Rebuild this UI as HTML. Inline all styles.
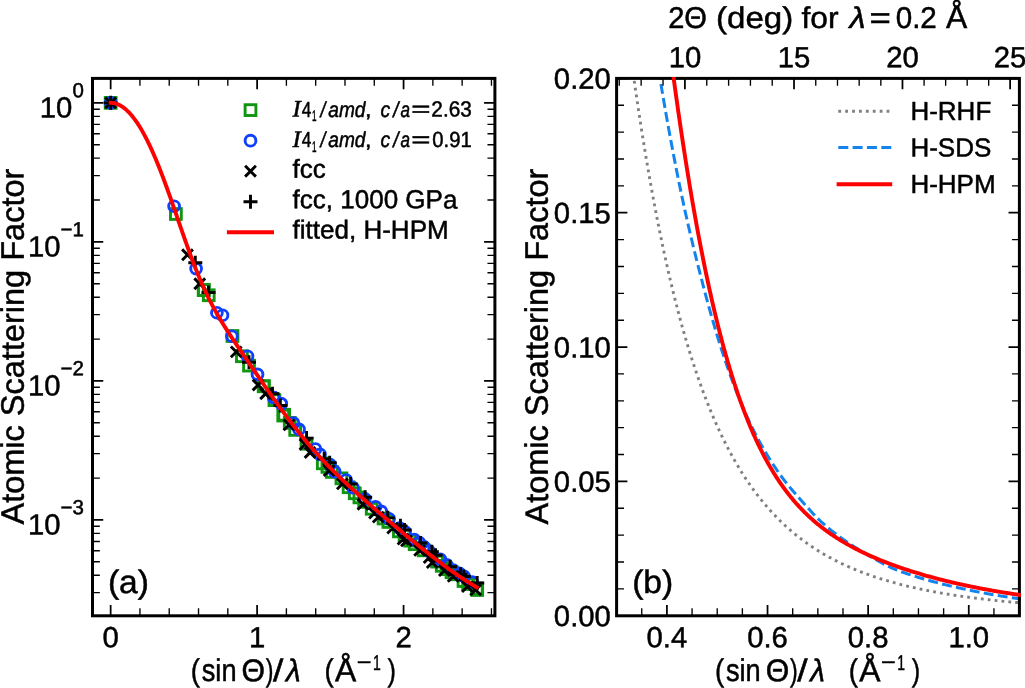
<!DOCTYPE html>
<html><head><meta charset="utf-8"><title>Atomic Scattering Factor</title>
<style>html,body{margin:0;padding:0;background:#fff}svg{display:block}text{text-rendering:geometricPrecision;stroke:#000;stroke-width:0.5px}</style></head>
<body>
<svg width="1025" height="688" viewBox="0 0 1025 688" font-family="Liberation Sans, sans-serif" fill="#000">
<rect width="1025" height="688" fill="#fff"/>
<defs><clipPath id="ca"><rect x="91.0" y="76.9" width="405.4" height="540.4"/></clipPath>
<clipPath id="cb"><rect x="615.1" y="76.9" width="405.8" height="540.4"/></clipPath></defs>
<g clip-path="url(#ca)">
<g fill="none" stroke="#109510" stroke-width="2.9"><rect x="105.25" y="97.46" width="10.80" height="10.80"/><rect x="170.50" y="208.60" width="10.80" height="10.80"/><rect x="198.35" y="284.60" width="10.80" height="10.80"/><rect x="198.35" y="284.60" width="10.80" height="10.80"/><rect x="203.35" y="289.85" width="10.80" height="10.80"/><rect x="227.10" y="330.60" width="10.80" height="10.80"/><rect x="236.50" y="350.85" width="10.80" height="10.80"/><rect x="243.60" y="360.20" width="10.80" height="10.80"/><rect x="258.35" y="380.85" width="10.80" height="10.80"/><rect x="258.35" y="380.85" width="10.80" height="10.80"/><rect x="269.05" y="394.74" width="10.80" height="10.80"/><rect x="277.85" y="410.17" width="10.80" height="10.80"/><rect x="278.76" y="409.33" width="10.80" height="10.80"/><rect x="284.36" y="417.52" width="10.80" height="10.80"/><rect x="289.79" y="424.51" width="10.80" height="10.80"/><rect x="301.11" y="438.34" width="10.80" height="10.80"/><rect x="317.38" y="457.93" width="10.80" height="10.80"/><rect x="322.00" y="461.51" width="10.80" height="10.80"/><rect x="326.49" y="466.54" width="10.80" height="10.80"/><rect x="336.03" y="472.94" width="10.80" height="10.80"/><rect x="343.20" y="481.85" width="10.80" height="10.80"/><rect x="349.35" y="487.88" width="10.80" height="10.80"/><rect x="354.00" y="492.00" width="10.80" height="10.80"/><rect x="358.73" y="496.47" width="10.80" height="10.80"/><rect x="366.31" y="503.38" width="10.80" height="10.80"/><rect x="378.16" y="513.10" width="10.80" height="10.80"/><rect x="382.97" y="516.58" width="10.80" height="10.80"/><rect x="393.51" y="525.97" width="10.80" height="10.80"/><rect x="399.21" y="529.88" width="10.80" height="10.80"/><rect x="404.73" y="535.25" width="10.80" height="10.80"/><rect x="409.27" y="538.82" width="10.80" height="10.80"/><rect x="418.22" y="544.98" width="10.80" height="10.80"/><rect x="431.68" y="556.20" width="10.80" height="10.80"/><rect x="436.32" y="560.44" width="10.80" height="10.80"/><rect x="441.17" y="563.80" width="10.80" height="10.80"/><rect x="446.14" y="566.87" width="10.80" height="10.80"/><rect x="450.46" y="568.93" width="10.80" height="10.80"/><rect x="458.10" y="575.64" width="10.80" height="10.80"/><rect x="462.71" y="578.60" width="10.80" height="10.80"/><rect x="471.40" y="583.03" width="10.80" height="10.80"/><rect x="471.82" y="584.60" width="10.80" height="10.80"/></g>
<g fill="none" stroke="#1040ff" stroke-width="2.9"><circle cx="110.65" cy="102.86" r="5.40"/><circle cx="174.10" cy="206.25" r="5.40"/><circle cx="196.10" cy="268.60" r="5.40"/><circle cx="216.90" cy="312.75" r="5.40"/><circle cx="222.50" cy="315.25" r="5.40"/><circle cx="231.90" cy="336.25" r="5.40"/><circle cx="247.50" cy="356.25" r="5.40"/><circle cx="257.50" cy="374.40" r="5.40"/><circle cx="273.75" cy="397.50" r="5.40"/><circle cx="273.75" cy="397.50" r="5.40"/><circle cx="281.25" cy="403.75" r="5.40"/><circle cx="281.25" cy="403.75" r="5.40"/><circle cx="293.49" cy="423.21" r="5.40"/><circle cx="299.03" cy="429.43" r="5.40"/><circle cx="315.40" cy="449.05" r="5.40"/><circle cx="320.00" cy="454.46" r="5.40"/><circle cx="330.02" cy="464.57" r="5.40"/><circle cx="334.65" cy="471.66" r="5.40"/><circle cx="346.16" cy="480.02" r="5.40"/><circle cx="353.04" cy="487.75" r="5.40"/><circle cx="364.86" cy="498.82" r="5.40"/><circle cx="375.51" cy="506.73" r="5.40"/><circle cx="381.22" cy="511.34" r="5.40"/><circle cx="389.03" cy="518.78" r="5.40"/><circle cx="399.63" cy="528.15" r="5.40"/><circle cx="405.02" cy="531.87" r="5.40"/><circle cx="414.28" cy="539.55" r="5.40"/><circle cx="419.26" cy="542.57" r="5.40"/><circle cx="424.02" cy="546.85" r="5.40"/><circle cx="429.00" cy="551.18" r="5.40"/><circle cx="440.33" cy="559.27" r="5.40"/><circle cx="446.64" cy="564.87" r="5.40"/><circle cx="453.10" cy="570.01" r="5.40"/><circle cx="459.31" cy="573.24" r="5.40"/><circle cx="464.00" cy="576.37" r="5.40"/><circle cx="472.20" cy="582.12" r="5.40"/></g>
<path fill="none" stroke="#000" stroke-width="2.9" d="M105.25 97.46l10.80 10.80m0 -10.80l-10.80 10.80M182.10 249.40l10.80 10.80m0 -10.80l-10.80 10.80M194.35 278.35l10.80 10.80m0 -10.80l-10.80 10.80M230.85 346.50l10.80 10.80m0 -10.80l-10.80 10.80M252.70 379.60l10.80 10.80m0 -10.80l-10.80 10.80M260.20 388.35l10.80 10.80m0 -10.80l-10.80 10.80M283.64 419.50l10.80 10.80m0 -10.80l-10.80 10.80M299.65 438.95l10.80 10.80m0 -10.80l-10.80 10.80M304.70 447.10l10.80 10.80m0 -10.80l-10.80 10.80M323.73 465.29l10.80 10.80m0 -10.80l-10.80 10.80M336.99 478.49l10.80 10.80m0 -10.80l-10.80 10.80M357.53 498.96l10.80 10.80m0 -10.80l-10.80 10.80M369.10 507.70l10.80 10.80m0 -10.80l-10.80 10.80M372.84 511.74l10.80 10.80m0 -10.80l-10.80 10.80M387.31 522.68l10.80 10.80m0 -10.80l-10.80 10.80M397.70 533.62l10.80 10.80m0 -10.80l-10.80 10.80M401.08 535.53l10.80 10.80m0 -10.80l-10.80 10.80M414.23 544.99l10.80 10.80m0 -10.80l-10.80 10.80M423.74 552.21l10.80 10.80m0 -10.80l-10.80 10.80M426.85 557.29l10.80 10.80m0 -10.80l-10.80 10.80M438.99 565.17l10.80 10.80m0 -10.80l-10.80 10.80M447.81 570.88l10.80 10.80m0 -10.80l-10.80 10.80M462.03 581.18l10.80 10.80m0 -10.80l-10.80 10.80M470.30 584.51l10.80 10.80m0 -10.80l-10.80 10.80"/>
<path fill="none" stroke="#000" stroke-width="2.9" d="M103.65 102.86h14.00m-7.00 -7.00v14.00M188.30 262.70h14.00m-7.00 -7.00v14.00M201.50 292.50h14.00m-7.00 -7.00v14.00M242.00 362.25h14.00m-7.00 -7.00v14.00M265.50 393.75h14.00m-7.00 -7.00v14.00M273.33 405.43h14.00m-7.00 -7.00v14.00M299.58 438.09h14.00m-7.00 -7.00v14.00M317.16 458.91h14.00m-7.00 -7.00v14.00M322.71 462.70h14.00m-7.00 -7.00v14.00M343.62 483.98h14.00m-7.00 -7.00v14.00M358.17 497.32h14.00m-7.00 -7.00v14.00M380.74 517.86h14.00m-7.00 -7.00v14.00M393.44 525.83h14.00m-7.00 -7.00v14.00M397.55 530.00h14.00m-7.00 -7.00v14.00M413.45 543.01h14.00m-7.00 -7.00v14.00M424.85 551.74h14.00m-7.00 -7.00v14.00M428.57 555.24h14.00m-7.00 -7.00v14.00M443.02 566.78h14.00m-7.00 -7.00v14.00M453.46 574.17h14.00m-7.00 -7.00v14.00M456.87 576.43h14.00m-7.00 -7.00v14.00M470.21 582.97h14.00m-7.00 -7.00v14.00"/>
<path fill="none" stroke="#ff0000" stroke-width="3.9" stroke-linecap="square" stroke-linejoin="round" d="M110.65 102.86L111.57 102.88L112.49 102.96L113.40 103.08L114.32 103.25L115.24 103.46L116.16 103.73L117.07 104.04L117.99 104.41L118.91 104.82L119.83 105.27L120.74 105.78L121.66 106.33L122.58 106.94L123.50 107.58L124.42 108.28L125.33 109.03L126.25 109.82L127.17 110.66L128.09 111.54L129.00 112.48L129.92 113.46L130.84 114.49L131.76 115.56L132.67 116.68L133.59 117.84L134.51 119.06L135.43 120.31L136.34 121.62L137.26 122.96L138.18 124.36L139.10 125.79L140.02 127.28L140.93 128.80L141.85 130.37L142.77 131.98L143.69 133.64L144.60 135.33L145.52 137.07L146.44 138.85L147.36 140.68L148.27 142.54L149.19 144.44L150.11 146.38L151.03 148.36L151.95 150.38L152.86 152.44L153.78 154.53L154.70 156.66L155.62 158.83L156.53 161.02L157.45 163.26L158.37 165.52L159.29 167.82L160.20 170.15L161.12 172.51L162.04 174.89L162.96 177.31L163.87 179.75L164.79 182.21L165.71 184.70L166.63 187.21L167.55 189.75L168.46 192.30L169.38 194.87L170.30 197.46L171.22 200.07L172.13 202.68L173.05 205.31L173.97 207.95L174.89 210.60L175.80 213.25L176.72 215.91L177.64 218.57L178.56 221.24L179.48 223.90L180.39 226.56L181.31 229.21L182.23 231.86L183.15 234.49L184.06 237.12L184.98 239.74L185.90 242.34L186.82 244.92L187.73 247.48L188.65 250.03L189.57 252.55L190.49 255.05L191.40 257.52L192.32 259.97L193.24 262.39L194.16 264.78L195.08 267.14L195.99 269.47L196.91 271.76L197.83 274.03L198.75 276.26L199.66 278.45L200.58 280.61L201.50 282.74L202.42 284.83L203.33 286.89L204.25 288.92L205.17 290.90L206.09 292.86L207.01 294.78L207.92 296.67L208.84 298.53L209.76 300.36L210.68 302.15L211.59 303.92L212.51 305.66L213.43 307.37L214.35 309.05L215.26 310.71L216.18 312.35L217.10 313.96L218.02 315.56L218.93 317.13L219.85 318.68L220.77 320.21L221.69 321.73L222.61 323.23L223.52 324.71L224.44 326.19L225.36 327.64L226.28 329.09L227.19 330.53L228.11 331.95L229.03 333.37L229.95 334.78L230.86 336.18L231.78 337.57L232.70 338.96L233.62 340.34L234.54 341.71L235.45 343.08L236.37 344.45L237.29 345.81L238.21 347.17L239.12 348.53L240.04 349.88L240.96 351.24L241.88 352.59L242.79 353.93L243.71 355.28L244.63 356.63L245.55 357.97L246.47 359.32L247.38 360.66L248.30 362.00L249.22 363.34L250.14 364.68L251.05 366.02L251.97 367.36L252.89 368.70L253.81 370.04L254.72 371.38L255.64 372.71L256.56 374.05L257.48 375.39L258.39 376.72L259.31 378.05L260.23 379.38L261.15 380.71L262.07 382.04L262.98 383.37L263.90 384.70L264.82 386.02L265.74 387.34L266.65 388.66L267.57 389.98L268.49 391.30L269.41 392.61L270.32 393.92L271.24 395.22L272.16 396.53L273.08 397.83L274.00 399.13L274.91 400.42L275.83 401.71L276.75 402.99L277.67 404.28L278.58 405.55L279.50 406.83L280.42 408.10L281.34 409.36L282.25 410.62L283.17 411.87L284.09 413.12L285.01 414.37L285.92 415.61L286.84 416.84L287.76 418.07L288.68 419.29L289.60 420.51L290.51 421.72L291.43 422.92L292.35 424.12L293.27 425.31L294.18 426.50L295.10 427.68L296.02 428.85L296.94 430.02L297.85 431.17L298.77 432.33L299.69 433.47L300.61 434.61L301.53 435.75L302.44 436.87L303.36 437.99L304.28 439.11L305.20 440.21L306.11 441.31L307.03 442.40L307.95 443.49L308.87 444.57L309.78 445.64L310.70 446.70L311.62 447.76L312.54 448.81L313.45 449.86L314.37 450.90L315.29 451.93L316.21 452.95L317.13 453.97L318.04 454.98L318.96 455.99L319.88 456.99L320.80 457.98L321.71 458.97L322.63 459.95L323.55 460.93L324.47 461.90L325.38 462.86L326.30 463.82L327.22 464.77L328.14 465.72L329.06 466.66L329.97 467.59L330.89 468.52L331.81 469.45L332.73 470.37L333.64 471.28L334.56 472.20L335.48 473.10L336.40 474.00L337.31 474.90L338.23 475.79L339.15 476.68L340.07 477.57L340.98 478.45L341.90 479.32L342.82 480.19L343.74 481.06L344.66 481.93L345.57 482.79L346.49 483.65L347.41 484.50L348.33 485.35L349.24 486.20L350.16 487.05L351.08 487.89L352.00 488.73L352.91 489.57L353.83 490.40L354.75 491.23L355.67 492.06L356.59 492.89L357.50 493.71L358.42 494.53L359.34 495.35L360.26 496.17L361.17 496.99L362.09 497.80L363.01 498.61L363.93 499.42L364.84 500.23L365.76 501.04L366.68 501.85L367.60 502.65L368.52 503.45L369.43 504.25L370.35 505.05L371.27 505.85L372.19 506.65L373.10 507.44L374.02 508.24L374.94 509.03L375.86 509.82L376.77 510.61L377.69 511.40L378.61 512.19L379.53 512.98L380.44 513.76L381.36 514.55L382.28 515.33L383.20 516.12L384.12 516.90L385.03 517.68L385.95 518.46L386.87 519.24L387.79 520.02L388.70 520.80L389.62 521.58L390.54 522.35L391.46 523.13L392.37 523.90L393.29 524.68L394.21 525.45L395.13 526.22L396.05 527.00L396.96 527.77L397.88 528.54L398.80 529.30L399.72 530.07L400.63 530.84L401.55 531.60L402.47 532.37L403.39 533.13L404.30 533.90L405.22 534.66L406.14 535.42L407.06 536.18L407.97 536.94L408.89 537.69L409.81 538.45L410.73 539.20L411.65 539.96L412.56 540.71L413.48 541.46L414.40 542.21L415.32 542.96L416.23 543.71L417.15 544.45L418.07 545.19L418.99 545.94L419.90 546.68L420.82 547.42L421.74 548.15L422.66 548.89L423.58 549.62L424.49 550.35L425.41 551.08L426.33 551.81L427.25 552.54L428.16 553.26L429.08 553.98L430.00 554.70L430.92 555.42L431.83 556.14L432.75 556.85L433.67 557.56L434.59 558.27L435.50 558.97L436.42 559.68L437.34 560.38L438.26 561.08L439.18 561.77L440.09 562.47L441.01 563.16L441.93 563.84L442.85 564.53L443.76 565.21L444.68 565.89L445.60 566.56L446.52 567.23L447.43 567.90L448.35 568.57L449.27 569.23L450.19 569.89L451.11 570.55L452.02 571.20L452.94 571.85L453.86 572.49L454.78 573.14L455.69 573.77L456.61 574.41L457.53 575.04L458.45 575.67L459.36 576.29L460.28 576.91L461.20 577.52L462.12 578.13L463.03 578.74L463.95 579.34L464.87 579.94L465.79 580.54L466.71 581.13L467.62 581.71L468.54 582.30L469.46 582.87L470.38 583.45L471.29 584.01L472.21 584.58L473.13 585.14L474.05 585.69L474.96 586.24L475.88 586.79L476.80 587.33"/>
</g>
<rect x="92.5" y="78.4" width="402.4" height="537.4" fill="none" stroke="#000" stroke-width="3"/>
<path d="M110.65 615.75v-10.80M257.11 615.75v-10.80M403.57 615.75v-10.80" stroke="#000" stroke-width="1.75" fill="none"/>
<path d="M110.65 78.40v10.80M257.11 78.40v10.80M403.57 78.40v10.80" stroke="#000" stroke-width="1.75" fill="none"/>
<path d="M139.94 615.75v-7.40M169.23 615.75v-7.40M198.53 615.75v-7.40M227.82 615.75v-7.40M286.40 615.75v-7.40M315.69 615.75v-7.40M344.99 615.75v-7.40M374.28 615.75v-7.40M432.86 615.75v-7.40M462.15 615.75v-7.40M491.45 615.75v-7.40" stroke="#000" stroke-width="1.35" fill="none"/>
<path d="M139.94 78.40v7.40M169.23 78.40v7.40M198.53 78.40v7.40M227.82 78.40v7.40M286.40 78.40v7.40M315.69 78.40v7.40M344.99 78.40v7.40M374.28 78.40v7.40M432.86 78.40v7.40M462.15 78.40v7.40M491.45 78.40v7.40" stroke="#000" stroke-width="1.35" fill="none"/>
<path d="M92.45 102.86h10.80M92.45 241.88h10.80M92.45 380.90h10.80M92.45 519.92h10.80" stroke="#000" stroke-width="1.75" fill="none"/>
<path d="M494.87 102.86h-10.80M494.87 241.88h-10.80M494.87 380.90h-10.80M494.87 519.92h-10.80" stroke="#000" stroke-width="1.75" fill="none"/>
<path d="M92.45 200.03h7.40M92.45 175.55h7.40M92.45 158.18h7.40M92.45 144.71h7.40M92.45 133.70h7.40M92.45 124.39h7.40M92.45 116.33h7.40M92.45 109.22h7.40M92.45 339.05h7.40M92.45 314.57h7.40M92.45 297.20h7.40M92.45 283.73h7.40M92.45 272.72h7.40M92.45 263.41h7.40M92.45 255.35h7.40M92.45 248.24h7.40M92.45 478.07h7.40M92.45 453.59h7.40M92.45 436.22h7.40M92.45 422.75h7.40M92.45 411.74h7.40M92.45 402.43h7.40M92.45 394.37h7.40M92.45 387.26h7.40M92.45 592.61h7.40M92.45 575.24h7.40M92.45 561.77h7.40M92.45 550.76h7.40M92.45 541.45h7.40M92.45 533.39h7.40M92.45 526.28h7.40" stroke="#000" stroke-width="1.35" fill="none"/>
<path d="M494.87 200.03h-7.40M494.87 175.55h-7.40M494.87 158.18h-7.40M494.87 144.71h-7.40M494.87 133.70h-7.40M494.87 124.39h-7.40M494.87 116.33h-7.40M494.87 109.22h-7.40M494.87 339.05h-7.40M494.87 314.57h-7.40M494.87 297.20h-7.40M494.87 283.73h-7.40M494.87 272.72h-7.40M494.87 263.41h-7.40M494.87 255.35h-7.40M494.87 248.24h-7.40M494.87 478.07h-7.40M494.87 453.59h-7.40M494.87 436.22h-7.40M494.87 422.75h-7.40M494.87 411.74h-7.40M494.87 402.43h-7.40M494.87 394.37h-7.40M494.87 387.26h-7.40M494.87 592.61h-7.40M494.87 575.24h-7.40M494.87 561.77h-7.40M494.87 550.76h-7.40M494.87 541.45h-7.40M494.87 533.39h-7.40M494.87 526.28h-7.40" stroke="#000" stroke-width="1.35" fill="none"/>
<text transform="translate(110.65 647.20) rotate(0.03)" font-size="29.25" text-anchor="middle" >0</text>
<text transform="translate(257.11 647.20) rotate(0.03)" font-size="29.25" text-anchor="middle" >1</text>
<text transform="translate(403.57 647.20) rotate(0.03)" font-size="29.25" text-anchor="middle" >2</text>
<text transform="translate(83.80 97.16) rotate(0.03)" font-size="20.50" text-anchor="end" >0</text>
<text transform="translate(72.40 117.56) rotate(0.03)" font-size="29.25" text-anchor="end" >10</text>
<text transform="translate(83.80 236.18) rotate(0.03)" font-size="20.50" text-anchor="end" >−1</text>
<text transform="translate(60.60 256.58) rotate(0.03)" font-size="29.25" text-anchor="end" >10</text>
<text transform="translate(83.80 375.20) rotate(0.03)" font-size="20.50" text-anchor="end" >−2</text>
<text transform="translate(60.60 395.60) rotate(0.03)" font-size="29.25" text-anchor="end" >10</text>
<text transform="translate(83.80 514.22) rotate(0.03)" font-size="20.50" text-anchor="end" >−3</text>
<text transform="translate(60.60 534.62) rotate(0.03)" font-size="29.25" text-anchor="end" >10</text>
<text transform="translate(190.85 681.20) rotate(0.03)" font-size="31.50" font-style="normal" font-family="Liberation Sans, sans-serif" textLength="9.19" lengthAdjust="spacingAndGlyphs">(</text>
<text transform="translate(201.74 681.20) rotate(0.03)" font-size="31.50" font-style="normal" font-family="Liberation Sans, sans-serif" textLength="34.77" lengthAdjust="spacingAndGlyphs">sin</text>
<text transform="translate(241.44 681.20) rotate(0.03)" font-size="31.50" font-style="normal" font-family="Liberation Sans, sans-serif" textLength="23.51" lengthAdjust="spacingAndGlyphs">Θ</text>
<text transform="translate(265.80 681.20) rotate(0.03)" font-size="31.50" font-style="normal" font-family="Liberation Sans, sans-serif" textLength="7.70" lengthAdjust="spacingAndGlyphs">)</text>
<text transform="translate(273.00 681.20) rotate(0.03)" font-size="31.50" font-style="normal" font-family="Liberation Sans, sans-serif" textLength="10.32" lengthAdjust="spacingAndGlyphs">/</text>
<text transform="translate(285.95 681.20) rotate(0.03)" font-size="31.50" font-style="italic" font-family="Liberation Sans, sans-serif" textLength="14.69" lengthAdjust="spacingAndGlyphs">λ</text>
<text transform="translate(324.55 681.20) rotate(0.03)" font-size="31.50" font-style="normal" font-family="Liberation Sans, sans-serif" textLength="9.19" lengthAdjust="spacingAndGlyphs">(</text>
<text transform="translate(335.10 681.20) rotate(0.03)" font-size="32.40" font-style="normal" font-family="Liberation Sans, sans-serif" textLength="21.22" lengthAdjust="spacingAndGlyphs">Å</text>
<text transform="translate(356.73 669.50) rotate(0.03)" font-size="21.50" font-style="normal" font-family="Liberation Sans, sans-serif" textLength="14.73" lengthAdjust="spacingAndGlyphs">−</text>
<text transform="translate(373.05 669.50) rotate(0.03)" font-size="21.50" font-style="normal" font-family="Liberation Sans, sans-serif" textLength="7.78" lengthAdjust="spacingAndGlyphs">1</text>
<text transform="translate(387.60 681.20) rotate(0.03)" font-size="31.50" font-style="normal" font-family="Liberation Sans, sans-serif" textLength="8.40" lengthAdjust="spacingAndGlyphs">)</text>
<text transform="translate(715.05 681.20) rotate(0.03)" font-size="31.50" font-style="normal" font-family="Liberation Sans, sans-serif" textLength="9.19" lengthAdjust="spacingAndGlyphs">(</text>
<text transform="translate(725.94 681.20) rotate(0.03)" font-size="31.50" font-style="normal" font-family="Liberation Sans, sans-serif" textLength="34.77" lengthAdjust="spacingAndGlyphs">sin</text>
<text transform="translate(765.64 681.20) rotate(0.03)" font-size="31.50" font-style="normal" font-family="Liberation Sans, sans-serif" textLength="23.51" lengthAdjust="spacingAndGlyphs">Θ</text>
<text transform="translate(790.00 681.20) rotate(0.03)" font-size="31.50" font-style="normal" font-family="Liberation Sans, sans-serif" textLength="7.70" lengthAdjust="spacingAndGlyphs">)</text>
<text transform="translate(797.20 681.20) rotate(0.03)" font-size="31.50" font-style="normal" font-family="Liberation Sans, sans-serif" textLength="10.32" lengthAdjust="spacingAndGlyphs">/</text>
<text transform="translate(810.15 681.20) rotate(0.03)" font-size="31.50" font-style="italic" font-family="Liberation Sans, sans-serif" textLength="14.69" lengthAdjust="spacingAndGlyphs">λ</text>
<text transform="translate(848.75 681.20) rotate(0.03)" font-size="31.50" font-style="normal" font-family="Liberation Sans, sans-serif" textLength="9.19" lengthAdjust="spacingAndGlyphs">(</text>
<text transform="translate(859.30 681.20) rotate(0.03)" font-size="32.40" font-style="normal" font-family="Liberation Sans, sans-serif" textLength="21.22" lengthAdjust="spacingAndGlyphs">Å</text>
<text transform="translate(880.93 669.50) rotate(0.03)" font-size="21.50" font-style="normal" font-family="Liberation Sans, sans-serif" textLength="14.73" lengthAdjust="spacingAndGlyphs">−</text>
<text transform="translate(897.25 669.50) rotate(0.03)" font-size="21.50" font-style="normal" font-family="Liberation Sans, sans-serif" textLength="7.78" lengthAdjust="spacingAndGlyphs">1</text>
<text transform="translate(911.80 681.20) rotate(0.03)" font-size="31.50" font-style="normal" font-family="Liberation Sans, sans-serif" textLength="8.40" lengthAdjust="spacingAndGlyphs">)</text>
<text transform="translate(23.7 346.6) rotate(-90.03) scale(1 1.000)" font-size="32.50" text-anchor="middle">Atomic Scattering Factor</text>
<text transform="translate(547.8 346.6) rotate(-90.03) scale(1 1.000)" font-size="32.50" text-anchor="middle">Atomic Scattering Factor</text>
<text transform="translate(107.93 592.90) rotate(0.03)" font-size="32.50" font-style="normal" font-family="Liberation Sans, sans-serif" textLength="41.06" lengthAdjust="spacingAndGlyphs">(a)</text>
<text transform="translate(632.13 592.90) rotate(0.03)" font-size="32.50" font-style="normal" font-family="Liberation Sans, sans-serif" textLength="41.06" lengthAdjust="spacingAndGlyphs">(b)</text>
<g fill="none" stroke="#109510" stroke-width="2.9"><rect x="245.10" y="104.70" width="10.80" height="10.80"/></g>
<g fill="none" stroke="#1040ff" stroke-width="2.9"><circle cx="250.50" cy="140.70" r="5.40"/></g>
<path fill="none" stroke="#000" stroke-width="2.9" d="M245.10 165.80l10.80 10.80m0 -10.80l-10.80 10.80M243.50 201.70h14.00m-7.00 -7.00v14.00"/>
<path stroke="#ff0000" stroke-width="3.9" d="M226.9 232.2H274"/>
<text transform="translate(292.40 116.60) rotate(0.03)" font-size="23.50" font-style="italic" font-family="Liberation Serif, serif" textLength="8.18" lengthAdjust="spacingAndGlyphs">I</text>
<text transform="translate(301.80 116.60) rotate(0.03)" font-size="21.80" font-style="normal" font-family="Liberation Sans, sans-serif" textLength="9.60" lengthAdjust="spacingAndGlyphs">4</text>
<text transform="translate(311.97 121.20) rotate(0.03)" font-size="15.30" font-style="normal" font-family="Liberation Sans, sans-serif" textLength="4.50" lengthAdjust="spacingAndGlyphs">1</text>
<text transform="translate(320.51 116.60) rotate(0.03)" font-size="21.80" font-style="italic" font-family="Liberation Sans, sans-serif" textLength="4.92" lengthAdjust="spacingAndGlyphs">/</text>
<text transform="translate(328.30 116.60) rotate(0.03)" font-size="21.80" font-style="italic" font-family="Liberation Sans, sans-serif" textLength="37.18" lengthAdjust="spacingAndGlyphs">amd</text>
<text transform="translate(365.07 116.60) rotate(0.03)" font-size="21.80" font-style="normal" font-family="Liberation Sans, sans-serif" textLength="6.47" lengthAdjust="spacingAndGlyphs">,</text>
<text transform="translate(380.60 116.60) rotate(0.03)" font-size="21.80" font-style="italic" font-family="Liberation Sans, sans-serif" textLength="9.72" lengthAdjust="spacingAndGlyphs">c</text>
<text transform="translate(393.17 116.60) rotate(0.03)" font-size="21.80" font-style="italic" font-family="Liberation Sans, sans-serif" textLength="5.25" lengthAdjust="spacingAndGlyphs">/</text>
<text transform="translate(400.50 116.60) rotate(0.03)" font-size="21.80" font-style="italic" font-family="Liberation Sans, sans-serif" textLength="9.50" lengthAdjust="spacingAndGlyphs">a</text>
<text transform="translate(411.29 116.60) rotate(0.03)" font-size="21.80" font-style="normal" font-family="Liberation Sans, sans-serif" textLength="19.22" lengthAdjust="spacingAndGlyphs">=</text>
<text transform="translate(431.35 116.60) rotate(0.03)" font-size="21.80" font-style="normal" font-family="Liberation Sans, sans-serif" textLength="40.37" lengthAdjust="spacingAndGlyphs">2.63</text>
<text transform="translate(292.40 147.10) rotate(0.03)" font-size="23.50" font-style="italic" font-family="Liberation Serif, serif" textLength="8.18" lengthAdjust="spacingAndGlyphs">I</text>
<text transform="translate(301.80 147.10) rotate(0.03)" font-size="21.80" font-style="normal" font-family="Liberation Sans, sans-serif" textLength="9.60" lengthAdjust="spacingAndGlyphs">4</text>
<text transform="translate(311.97 151.70) rotate(0.03)" font-size="15.30" font-style="normal" font-family="Liberation Sans, sans-serif" textLength="4.50" lengthAdjust="spacingAndGlyphs">1</text>
<text transform="translate(320.51 147.10) rotate(0.03)" font-size="21.80" font-style="italic" font-family="Liberation Sans, sans-serif" textLength="4.92" lengthAdjust="spacingAndGlyphs">/</text>
<text transform="translate(328.30 147.10) rotate(0.03)" font-size="21.80" font-style="italic" font-family="Liberation Sans, sans-serif" textLength="37.18" lengthAdjust="spacingAndGlyphs">amd</text>
<text transform="translate(365.07 147.10) rotate(0.03)" font-size="21.80" font-style="normal" font-family="Liberation Sans, sans-serif" textLength="6.47" lengthAdjust="spacingAndGlyphs">,</text>
<text transform="translate(380.60 147.10) rotate(0.03)" font-size="21.80" font-style="italic" font-family="Liberation Sans, sans-serif" textLength="9.72" lengthAdjust="spacingAndGlyphs">c</text>
<text transform="translate(393.17 147.10) rotate(0.03)" font-size="21.80" font-style="italic" font-family="Liberation Sans, sans-serif" textLength="5.25" lengthAdjust="spacingAndGlyphs">/</text>
<text transform="translate(400.50 147.10) rotate(0.03)" font-size="21.80" font-style="italic" font-family="Liberation Sans, sans-serif" textLength="9.50" lengthAdjust="spacingAndGlyphs">a</text>
<text transform="translate(411.29 147.10) rotate(0.03)" font-size="21.80" font-style="normal" font-family="Liberation Sans, sans-serif" textLength="19.22" lengthAdjust="spacingAndGlyphs">=</text>
<text transform="translate(432.30 147.10) rotate(0.03)" font-size="21.80" font-style="normal" font-family="Liberation Sans, sans-serif" textLength="39.41" lengthAdjust="spacingAndGlyphs">0.91</text>
<text transform="translate(292.60 177.80) rotate(0.03)" font-size="26.00" text-anchor="start" >fcc</text>
<text transform="translate(292.60 208.30) rotate(0.03)" font-size="26.00" text-anchor="start" >fcc, 1000 GPa</text>
<text transform="translate(292.60 238.60) rotate(0.03)" font-size="26.00" text-anchor="start" >fitted, H-HPM</text>
<g clip-path="url(#cb)" fill="none">
<path stroke="#808080" stroke-width="2.9" stroke-dasharray="2.8 4.1" stroke-dashoffset="0.00" d="M591.45 -323.91L592.32 -313.25L593.20 -302.70L594.08 -292.26L594.95 -281.93L595.83 -271.70L596.71 -261.58L597.59 -251.57L598.46 -241.66L599.34 -231.85L600.22 -222.15L601.09 -212.56L601.97 -203.06L602.85 -193.67L603.73 -184.39L604.60 -175.20L605.48 -166.11L606.36 -157.12L607.23 -148.24L608.11 -139.45L608.99 -130.76L609.87 -122.16L610.74 -113.67L611.62 -105.26L612.50 -96.96L613.37 -88.75L614.25 -80.63L615.13 -72.60L616.01 -64.67L616.88 -56.82L617.76 -49.07L618.64 -41.41L619.51 -33.83L620.39 -26.35L621.27 -18.95L622.15 -11.64L623.02 -4.41L623.90 2.73L624.78 9.79L625.65 16.77L626.53 23.66L627.41 30.47L628.29 37.20L629.16 43.85L630.04 50.42L630.92 56.92L631.79 63.33L632.67 69.67L633.55 75.93L634.43 82.12L635.30 88.23L636.18 94.27L637.06 100.24L637.93 106.13L638.81 111.96L639.69 117.71L640.57 123.40L641.44 129.01L642.32 134.56L643.20 140.04L644.07 145.45L644.95 150.79L645.83 156.08L646.71 161.29L647.58 166.45L648.46 171.54L649.34 176.57L650.21 181.53L651.09 186.44L651.97 191.29L652.85 196.07L653.72 200.80L654.60 205.47L655.48 210.09L656.35 214.64L657.23 219.14L658.11 223.59L658.99 227.98L659.86 232.32L660.74 236.60L661.62 240.83L662.49 245.01L663.37 249.14L664.25 253.22L665.13 257.25L666.00 261.22L666.88 265.15L667.76 269.03L668.63 272.87L669.51 276.65L670.39 280.39L671.27 284.09L672.14 287.74L673.02 291.34L673.90 294.90L674.77 298.42L675.65 301.89L676.53 305.32L677.41 308.71L678.28 312.06L679.16 315.36L680.04 318.63L680.91 321.86L681.79 325.04L682.67 328.19L683.55 331.30L684.42 334.37L685.30 337.40L686.18 340.40L687.05 343.36L687.93 346.29L688.81 349.18L689.69 352.03L690.56 354.85L691.44 357.63L692.32 360.38L693.19 363.10L694.07 365.79L694.95 368.44L695.83 371.06L696.70 373.65L697.58 376.21L698.46 378.73L699.33 381.23L700.21 383.70L701.09 386.13L701.97 388.54L702.84 390.92L703.72 393.27L704.60 395.59L705.47 397.88L706.35 400.15L707.23 402.39L708.11 404.60L708.98 406.79L709.86 408.95L710.74 411.08L711.61 413.19L712.49 415.27L713.37 417.33L714.25 419.37L715.12 421.38L716.00 423.36L716.88 425.33L717.75 427.27L718.63 429.18L719.51 431.08L720.39 432.95L721.26 434.80L722.14 436.63L723.02 438.44L723.89 440.22L724.77 441.99L725.65 443.73L726.53 445.46L727.40 447.16L728.28 448.84L729.16 450.51L730.03 452.15L730.91 453.78L731.79 455.39L732.67 456.97L733.54 458.54L734.42 460.10L735.30 461.63L736.17 463.15L737.05 464.65L737.93 466.13L738.81 467.59L739.68 469.04L740.56 470.47L741.44 471.89L742.31 473.29L743.19 474.67L744.07 476.03L744.95 477.39L745.82 478.72L746.70 480.04L747.58 481.35L748.45 482.64L749.33 483.92L750.21 485.18L751.09 486.43L751.96 487.66L752.84 488.88L753.72 490.09L754.59 491.28L755.47 492.46L756.35 493.63L757.23 494.78L758.10 495.92L758.98 497.05L759.86 498.16L760.73 499.27L761.61 500.36L762.49 501.44L763.37 502.50L764.24 503.56L765.12 504.60L766.00 505.63L766.87 506.65L767.75 507.66L768.63 508.66L769.51 509.65L770.38 510.62L771.26 511.59L772.14 512.54L773.01 513.49L773.89 514.42L774.77 515.35L775.65 516.26L776.52 517.17L777.40 518.06L778.28 518.95L779.15 519.82L780.03 520.69L780.91 521.54L781.79 522.39L782.66 523.23L783.54 524.06L784.42 524.88L785.29 525.69L786.17 526.50L787.05 527.29L787.93 528.08L788.80 528.86L789.68 529.63L790.56 530.39L791.43 531.14L792.31 531.89L793.19 532.62L794.07 533.35L794.94 534.08L795.82 534.79L796.70 535.50L797.57 536.20L798.45 536.89L799.33 537.58L800.21 538.25L801.08 538.93L801.96 539.59L802.84 540.25L803.71 540.90L804.59 541.54L805.47 542.18L806.35 542.81L807.22 543.43L808.10 544.05L808.98 544.66L809.85 545.27L810.73 545.87L811.61 546.46L812.49 547.05L813.36 547.63L814.24 548.20L815.12 548.77L815.99 549.34L816.87 549.89L817.75 550.45L818.63 550.99L819.50 551.53L820.38 552.07L821.26 552.60L822.14 553.12L823.01 553.64L823.89 554.16L824.77 554.67L825.64 555.17L826.52 555.67L827.40 556.17L828.28 556.65L829.15 557.14L830.03 557.62L830.91 558.09L831.78 558.56L832.66 559.03L833.54 559.49L834.42 559.95L835.29 560.40L836.17 560.85L837.05 561.29L837.92 561.73L838.80 562.17L839.68 562.60L840.56 563.02L841.43 563.45L842.31 563.86L843.19 564.28L844.06 564.69L844.94 565.09L845.82 565.50L846.70 565.89L847.57 566.29L848.45 566.68L849.33 567.07L850.20 567.45L851.08 567.83L851.96 568.21L852.84 568.58L853.71 568.95L854.59 569.31L855.47 569.68L856.34 570.03L857.22 570.39L858.10 570.74L858.98 571.09L859.85 571.44L860.73 571.78L861.61 572.12L862.48 572.45L863.36 572.79L864.24 573.12L865.12 573.44L865.99 573.77L866.87 574.09L867.75 574.40L868.62 574.72L869.50 575.03L870.38 575.34L871.26 575.64L872.13 575.95L873.01 576.25L873.89 576.55L874.76 576.84L875.64 577.13L876.52 577.42L877.40 577.71L878.27 577.99L879.15 578.28L880.03 578.55L880.90 578.83L881.78 579.10L882.66 579.38L883.54 579.65L884.41 579.91L885.29 580.18L886.17 580.44L887.04 580.70L887.92 580.96L888.80 581.21L889.68 581.46L890.55 581.71L891.43 581.96L892.31 582.21L893.18 582.45L894.06 582.69L894.94 582.93L895.82 583.17L896.69 583.41L897.57 583.64L898.45 583.87L899.32 584.10L900.20 584.33L901.08 584.55L901.96 584.78L902.83 585.00L903.71 585.22L904.59 585.44L905.46 585.65L906.34 585.86L907.22 586.08L908.10 586.29L908.97 586.50L909.85 586.70L910.73 586.91L911.60 587.11L912.48 587.31L913.36 587.51L914.24 587.71L915.11 587.90L915.99 588.10L916.87 588.29L917.74 588.48L918.62 588.67L919.50 588.86L920.38 589.05L921.25 589.23L922.13 589.41L923.01 589.60L923.88 589.78L924.76 589.95L925.64 590.13L926.52 590.31L927.39 590.48L928.27 590.65L929.15 590.82L930.02 590.99L930.90 591.16L931.78 591.33L932.66 591.50L933.53 591.66L934.41 591.82L935.29 591.98L936.16 592.14L937.04 592.30L937.92 592.46L938.80 592.62L939.67 592.77L940.55 592.93L941.43 593.08L942.30 593.23L943.18 593.38L944.06 593.53L944.94 593.68L945.81 593.82L946.69 593.97L947.57 594.11L948.44 594.25L949.32 594.40L950.20 594.54L951.08 594.68L951.95 594.81L952.83 594.95L953.71 595.09L954.58 595.22L955.46 595.36L956.34 595.49L957.22 595.62L958.09 595.75L958.97 595.88L959.85 596.01L960.72 596.14L961.60 596.26L962.48 596.39L963.36 596.51L964.23 596.64L965.11 596.76L965.99 596.88L966.86 597.00L967.74 597.12L968.62 597.24L969.50 597.36L970.37 597.48L971.25 597.59L972.13 597.71L973.00 597.82L973.88 597.94L974.76 598.05L975.64 598.16L976.51 598.27L977.39 598.38L978.27 598.49L979.14 598.60L980.02 598.71L980.90 598.81L981.78 598.92L982.65 599.02L983.53 599.13L984.41 599.23L985.28 599.33L986.16 599.43L987.04 599.54L987.92 599.64L988.79 599.74L989.67 599.83L990.55 599.93L991.42 600.03L992.30 600.13L993.18 600.22L994.06 600.32L994.93 600.41L995.81 600.50L996.69 600.60L997.56 600.69L998.44 600.78L999.32 600.87L1000.20 600.96L1001.07 601.05L1001.95 601.14L1002.83 601.23L1003.70 601.32L1004.58 601.40L1005.46 601.49L1006.34 601.58L1007.21 601.66L1008.09 601.74L1008.97 601.83L1009.84 601.91L1010.72 601.99L1011.60 602.08L1012.48 602.16L1013.35 602.24L1014.23 602.32L1015.11 602.40L1015.98 602.48L1016.86 602.56L1017.74 602.63L1018.62 602.71L1019.49 602.79L1020.37 602.86L1021.25 602.94L1022.12 603.01L1023.00 603.09L1023.88 603.16L1024.76 603.24L1025.63 603.31L1026.51 603.38L1027.39 603.45L1028.26 603.52L1029.14 603.60"/>
<path stroke="#1383ee" stroke-width="3.0" stroke-dasharray="9.922 4.293" stroke-dashoffset="13.75" d="M591.45 -494.92L592.32 -485.33L593.20 -475.81L594.08 -466.36L594.95 -456.98L595.83 -447.67L596.71 -438.42L597.59 -429.24L598.46 -420.12L599.34 -411.06L600.22 -402.08L601.09 -393.15L601.97 -384.29L602.85 -375.49L603.73 -366.76L604.60 -358.08L605.48 -349.47L606.36 -340.92L607.23 -332.43L608.11 -324.00L608.99 -315.64L609.87 -307.33L610.74 -299.08L611.62 -290.89L612.50 -282.75L613.37 -274.68L614.25 -266.66L615.13 -258.71L616.01 -250.80L616.88 -242.96L617.76 -235.17L618.64 -227.44L619.51 -219.77L620.39 -212.15L621.27 -204.58L622.15 -197.07L623.02 -189.62L623.90 -182.21L624.78 -174.87L625.65 -167.57L626.53 -160.34L627.41 -153.15L628.29 -146.02L629.16 -138.94L630.04 -131.91L630.92 -124.93L631.79 -118.01L632.67 -111.13L633.55 -104.31L634.43 -97.54L635.30 -90.82L636.18 -84.16L637.06 -77.54L637.93 -70.97L638.81 -64.45L639.69 -57.99L640.57 -51.57L641.44 -45.20L642.32 -38.88L643.20 -32.61L644.07 -26.38L644.95 -20.21L645.83 -14.08L646.71 -8.01L647.58 -1.98L648.46 4.01L649.34 9.94L650.21 15.83L651.09 21.67L651.97 27.47L652.85 33.21L653.72 38.92L654.60 44.57L655.48 50.18L656.35 55.74L657.23 61.26L658.11 66.74L658.99 72.16L659.86 77.55L660.74 82.87L661.62 88.14L662.49 93.36L663.37 98.52L664.25 103.63L665.13 108.69L666.00 113.70L666.88 118.65L667.76 123.56L668.63 128.42L669.51 133.23L670.39 138.00L671.27 142.72L672.14 147.39L673.02 152.02L673.90 156.61L674.77 161.15L675.65 165.65L676.53 170.11L677.41 174.53L678.28 178.90L679.16 183.24L680.04 187.52L680.91 191.75L681.79 195.92L682.67 200.04L683.55 204.11L684.42 208.13L685.30 212.10L686.18 216.03L687.05 219.92L687.93 223.76L688.81 227.57L689.69 231.34L690.56 235.07L691.44 238.77L692.32 242.43L693.19 246.06L694.07 249.67L694.95 253.24L695.83 256.79L696.70 260.31L697.58 263.81L698.46 267.28L699.33 270.73L700.21 274.16L701.09 277.57L701.97 280.96L702.84 284.33L703.72 287.68L704.60 291.02L705.47 294.32L706.35 297.60L707.23 300.84L708.11 304.05L708.98 307.23L709.86 310.39L710.74 313.51L711.61 316.60L712.49 319.65L713.37 322.68L714.25 325.68L715.12 328.64L716.00 331.58L716.88 334.48L717.75 337.36L718.63 340.20L719.51 343.02L720.39 345.80L721.26 348.56L722.14 351.28L723.02 353.97L723.89 356.64L724.77 359.27L725.65 361.88L726.53 364.45L727.40 367.00L728.28 369.52L729.16 372.01L730.03 374.47L730.91 376.90L731.79 379.31L732.67 381.68L733.54 384.03L734.42 386.35L735.30 388.64L736.17 390.91L737.05 393.15L737.93 395.36L738.81 397.54L739.68 399.70L740.56 401.83L741.44 403.94L742.31 406.02L743.19 408.07L744.07 410.09L744.95 412.08L745.82 414.05L746.70 415.99L747.58 417.91L748.45 419.80L749.33 421.67L750.21 423.51L751.09 425.33L751.96 427.12L752.84 428.89L753.72 430.64L754.59 432.37L755.47 434.08L756.35 435.76L757.23 437.42L758.10 439.07L758.98 440.69L759.86 442.29L760.73 443.88L761.61 445.45L762.49 446.99L763.37 448.52L764.24 450.03L765.12 451.53L766.00 453.01L766.87 454.47L767.75 455.91L768.63 457.34L769.51 458.75L770.38 460.15L771.26 461.53L772.14 462.90L773.01 464.25L773.89 465.59L774.77 466.92L775.65 468.23L776.52 469.53L777.40 470.81L778.28 472.08L779.15 473.34L780.03 474.57L780.91 475.79L781.79 476.99L782.66 478.17L783.54 479.33L784.42 480.48L785.29 481.62L786.17 482.74L787.05 483.85L787.93 484.94L788.80 486.02L789.68 487.10L790.56 488.16L791.43 489.21L792.31 490.25L793.19 491.28L794.07 492.31L794.94 493.32L795.82 494.33L796.70 495.34L797.57 496.33L798.45 497.32L799.33 498.31L800.21 499.29L801.08 500.26L801.96 501.23L802.84 502.20L803.71 503.17L804.59 504.15L805.47 505.14L806.35 506.12L807.22 507.12L808.10 508.11L808.98 509.09L809.85 510.08L810.73 511.06L811.61 512.03L812.49 512.99L813.36 513.94L814.24 514.88L815.12 515.81L815.99 516.72L816.87 517.61L817.75 518.49L818.63 519.35L819.50 520.19L820.38 521.01L821.26 521.82L822.14 522.63L823.01 523.42L823.89 524.19L824.77 524.96L825.64 525.72L826.52 526.47L827.40 527.21L828.28 527.95L829.15 528.67L830.03 529.39L830.91 530.10L831.78 530.80L832.66 531.50L833.54 532.19L834.42 532.87L835.29 533.55L836.17 534.23L837.05 534.89L837.92 535.55L838.80 536.21L839.68 536.85L840.56 537.49L841.43 538.13L842.31 538.76L843.19 539.38L844.06 539.99L844.94 540.60L845.82 541.21L846.70 541.81L847.57 542.40L848.45 542.99L849.33 543.57L850.20 544.15L851.08 544.72L851.96 545.29L852.84 545.86L853.71 546.42L854.59 546.97L855.47 547.52L856.34 548.07L857.22 548.61L858.10 549.15L858.98 549.69L859.85 550.22L860.73 550.75L861.61 551.27L862.48 551.79L863.36 552.31L864.24 552.83L865.12 553.34L865.99 553.84L866.87 554.35L867.75 554.86L868.62 555.38L869.50 555.89L870.38 556.41L871.26 556.92L872.13 557.44L873.01 557.96L873.89 558.47L874.76 558.99L875.64 559.50L876.52 560.01L877.40 560.51L878.27 561.02L879.15 561.51L880.03 562.01L880.90 562.50L881.78 562.98L882.66 563.45L883.54 563.92L884.41 564.39L885.29 564.84L886.17 565.29L887.04 565.73L887.92 566.16L888.80 566.59L889.68 567.00L890.55 567.41L891.43 567.80L892.31 568.19L893.18 568.57L894.06 568.94L894.94 569.29L895.82 569.64L896.69 569.99L897.57 570.33L898.45 570.67L899.32 571.00L900.20 571.32L901.08 571.65L901.96 571.97L902.83 572.28L903.71 572.59L904.59 572.90L905.46 573.21L906.34 573.51L907.22 573.81L908.10 574.10L908.97 574.40L909.85 574.69L910.73 574.97L911.60 575.26L912.48 575.54L913.36 575.82L914.24 576.10L915.11 576.38L915.99 576.65L916.87 576.93L917.74 577.20L918.62 577.47L919.50 577.73L920.38 578.00L921.25 578.26L922.13 578.52L923.01 578.78L923.88 579.03L924.76 579.29L925.64 579.54L926.52 579.79L927.39 580.03L928.27 580.28L929.15 580.52L930.02 580.76L930.90 581.00L931.78 581.24L932.66 581.48L933.53 581.71L934.41 581.94L935.29 582.17L936.16 582.40L937.04 582.63L937.92 582.86L938.80 583.09L939.67 583.31L940.55 583.53L941.43 583.76L942.30 583.98L943.18 584.20L944.06 584.42L944.94 584.63L945.81 584.85L946.69 585.07L947.57 585.28L948.44 585.49L949.32 585.70L950.20 585.91L951.08 586.12L951.95 586.33L952.83 586.53L953.71 586.74L954.58 586.94L955.46 587.14L956.34 587.34L957.22 587.54L958.09 587.74L958.97 587.94L959.85 588.13L960.72 588.33L961.60 588.52L962.48 588.71L963.36 588.90L964.23 589.09L965.11 589.28L965.99 589.47L966.86 589.65L967.74 589.84L968.62 590.02L969.50 590.20L970.37 590.38L971.25 590.56L972.13 590.74L973.00 590.92L973.88 591.10L974.76 591.27L975.64 591.45L976.51 591.62L977.39 591.80L978.27 591.97L979.14 592.14L980.02 592.31L980.90 592.48L981.78 592.64L982.65 592.81L983.53 592.98L984.41 593.14L985.28 593.30L986.16 593.46L987.04 593.62L987.92 593.78L988.79 593.94L989.67 594.10L990.55 594.25L991.42 594.41L992.30 594.56L993.18 594.71L994.06 594.86L994.93 595.01L995.81 595.16L996.69 595.31L997.56 595.45L998.44 595.60L999.32 595.74L1000.20 595.88L1001.07 596.02L1001.95 596.16L1002.83 596.30L1003.70 596.44L1004.58 596.58L1005.46 596.71L1006.34 596.85L1007.21 596.98L1008.09 597.12L1008.97 597.25L1009.84 597.38L1010.72 597.51L1011.60 597.64L1012.48 597.77L1013.35 597.90L1014.23 598.02L1015.11 598.15L1015.98 598.28L1016.86 598.40L1017.74 598.52L1018.62 598.65L1019.49 598.77L1020.37 598.89L1021.25 599.01L1022.12 599.13L1023.00 599.25L1023.88 599.37L1024.76 599.49L1025.63 599.60L1026.51 599.72L1027.39 599.83L1028.26 599.95L1029.14 600.06"/>
</g>
<rect x="616.6" y="78.4" width="402.8" height="537.4" fill="none" stroke="#000" stroke-width="3"/>
<path d="M666.91 615.75v-10.80M767.53 615.75v-10.80M868.15 615.75v-10.80M968.77 615.75v-10.80" stroke="#000" stroke-width="1.75" fill="none"/>
<path d="M616.60 615.75v-7.40M641.75 615.75v-7.40M692.07 615.75v-7.40M717.22 615.75v-7.40M742.38 615.75v-7.40M792.69 615.75v-7.40M817.84 615.75v-7.40M843.00 615.75v-7.40M893.31 615.75v-7.40M918.46 615.75v-7.40M943.62 615.75v-7.40M993.93 615.75v-7.40M1019.08 615.75v-7.40" stroke="#000" stroke-width="1.35" fill="none"/>
<path d="M684.91 78.40v10.80M794.01 78.40v10.80M902.48 78.40v10.80M1010.12 78.40v10.80" stroke="#000" stroke-width="1.75" fill="none"/>
<path d="M619.24 78.40v7.40M641.14 78.40v7.40M663.03 78.40v7.40M706.77 78.40v7.40M728.61 78.40v7.40M750.43 78.40v7.40M772.23 78.40v7.40M815.76 78.40v7.40M837.48 78.40v7.40M859.18 78.40v7.40M880.85 78.40v7.40M924.08 78.40v7.40M945.65 78.40v7.40M967.18 78.40v7.40M988.67 78.40v7.40" stroke="#000" stroke-width="1.35" fill="none"/>
<path d="M616.60 615.75h10.80M616.60 481.41h10.80M616.60 347.07h10.80M616.60 212.74h10.80M616.60 78.40h10.80" stroke="#000" stroke-width="1.75" fill="none"/>
<path d="M1019.35 615.75h-10.80M1019.35 481.41h-10.80M1019.35 347.07h-10.80M1019.35 212.74h-10.80M1019.35 78.40h-10.80" stroke="#000" stroke-width="1.75" fill="none"/>
<path d="M616.60 588.88h7.40M616.60 562.01h7.40M616.60 535.15h7.40M616.60 508.28h7.40M616.60 454.54h7.40M616.60 427.68h7.40M616.60 400.81h7.40M616.60 373.94h7.40M616.60 320.21h7.40M616.60 293.34h7.40M616.60 266.47h7.40M616.60 239.60h7.40M616.60 185.87h7.40M616.60 159.00h7.40M616.60 132.14h7.40M616.60 105.27h7.40" stroke="#000" stroke-width="1.35" fill="none"/>
<path d="M1019.35 588.88h-7.40M1019.35 562.01h-7.40M1019.35 535.15h-7.40M1019.35 508.28h-7.40M1019.35 454.54h-7.40M1019.35 427.68h-7.40M1019.35 400.81h-7.40M1019.35 373.94h-7.40M1019.35 320.21h-7.40M1019.35 293.34h-7.40M1019.35 266.47h-7.40M1019.35 239.60h-7.40M1019.35 185.87h-7.40M1019.35 159.00h-7.40M1019.35 132.14h-7.40M1019.35 105.27h-7.40" stroke="#000" stroke-width="1.35" fill="none"/>
<text transform="translate(666.91 647.20) rotate(0.03)" font-size="29.25" text-anchor="middle" >0.4</text>
<text transform="translate(767.53 647.20) rotate(0.03)" font-size="29.25" text-anchor="middle" >0.6</text>
<text transform="translate(868.15 647.20) rotate(0.03)" font-size="29.25" text-anchor="middle" >0.8</text>
<text transform="translate(968.77 647.20) rotate(0.03)" font-size="29.25" text-anchor="middle" >1.0</text>
<text transform="translate(684.91 67.20) rotate(0.03)" font-size="29.25" text-anchor="middle" >10</text>
<text transform="translate(794.01 67.20) rotate(0.03)" font-size="29.25" text-anchor="middle" >15</text>
<text transform="translate(902.48 67.20) rotate(0.03)" font-size="29.25" text-anchor="middle" >20</text>
<text transform="translate(1010.12 67.20) rotate(0.03)" font-size="29.25" text-anchor="middle" >25</text>
<text transform="translate(610.80 626.15) rotate(0.03)" font-size="29.25" text-anchor="end" >0.00</text>
<text transform="translate(610.80 491.81) rotate(0.03)" font-size="29.25" text-anchor="end" >0.05</text>
<text transform="translate(610.80 357.47) rotate(0.03)" font-size="29.25" text-anchor="end" >0.10</text>
<text transform="translate(610.80 223.14) rotate(0.03)" font-size="29.25" text-anchor="end" >0.15</text>
<text transform="translate(610.80 88.80) rotate(0.03)" font-size="29.25" text-anchor="end" >0.20</text>
<text transform="translate(668.13 28.00) rotate(0.03)" font-size="30.00" font-style="normal" font-family="Liberation Sans, sans-serif" textLength="38.77" lengthAdjust="spacingAndGlyphs">2Θ</text>
<text transform="translate(716.10 28.00) rotate(0.03)" font-size="30.00" font-style="normal" font-family="Liberation Sans, sans-serif" textLength="77.16" lengthAdjust="spacingAndGlyphs">(deg)</text>
<text transform="translate(801.50 28.00) rotate(0.03)" font-size="30.00" font-style="normal" font-family="Liberation Sans, sans-serif" textLength="37.02" lengthAdjust="spacingAndGlyphs">for</text>
<text transform="translate(849.39 28.00) rotate(0.03)" font-size="30.00" font-style="italic" font-family="Liberation Sans, sans-serif" textLength="16.03" lengthAdjust="spacingAndGlyphs">λ</text>
<text transform="translate(869.48 28.00) rotate(0.03)" font-size="30.00" font-style="normal" font-family="Liberation Sans, sans-serif" textLength="21.37" lengthAdjust="spacingAndGlyphs">=</text>
<text transform="translate(895.72 28.00) rotate(0.03)" font-size="30.00" font-style="normal" font-family="Liberation Sans, sans-serif" textLength="41.09" lengthAdjust="spacingAndGlyphs">0.2</text>
<text transform="translate(946.10 28.00) rotate(0.03)" font-size="32.40" font-style="normal" font-family="Liberation Sans, sans-serif" textLength="21.22" lengthAdjust="spacingAndGlyphs">Å</text>
<path clip-path="url(#cb)" fill="none" stroke="#ff0000" stroke-width="3.9" d="M591.45 -824.80L592.32 -812.61L593.20 -800.45L594.08 -788.32L594.95 -776.22L595.83 -764.16L596.71 -752.13L597.59 -740.14L598.46 -728.18L599.34 -716.26L600.22 -704.39L601.09 -692.55L601.97 -680.75L602.85 -669.00L603.73 -657.29L604.60 -645.63L605.48 -634.01L606.36 -622.44L607.23 -610.91L608.11 -599.44L608.99 -588.01L609.87 -576.63L610.74 -565.31L611.62 -554.04L612.50 -542.82L613.37 -531.66L614.25 -520.55L615.13 -509.49L616.01 -498.50L616.88 -487.55L617.76 -476.67L618.64 -465.85L619.51 -455.08L620.39 -444.38L621.27 -433.74L622.15 -423.15L623.02 -412.63L623.90 -402.17L624.78 -391.78L625.65 -381.45L626.53 -371.18L627.41 -360.98L628.29 -350.84L629.16 -340.77L630.04 -330.77L630.92 -320.83L631.79 -310.95L632.67 -301.15L633.55 -291.41L634.43 -281.75L635.30 -272.15L636.18 -262.62L637.06 -253.15L637.93 -243.76L638.81 -234.44L639.69 -225.19L640.57 -216.00L641.44 -206.89L642.32 -197.85L643.20 -188.88L644.07 -179.98L644.95 -171.16L645.83 -162.40L646.71 -153.72L647.58 -145.10L648.46 -136.56L649.34 -128.09L650.21 -119.69L651.09 -111.37L651.97 -103.11L652.85 -94.93L653.72 -86.82L654.60 -78.78L655.48 -70.82L656.35 -62.93L657.23 -55.10L658.11 -47.35L658.99 -39.67L659.86 -32.07L660.74 -24.53L661.62 -17.07L662.49 -9.68L663.37 -2.35L664.25 4.90L665.13 12.08L666.00 19.18L666.88 26.22L667.76 33.19L668.63 40.09L669.51 46.92L670.39 53.67L671.27 60.36L672.14 66.98L673.02 73.53L673.90 80.02L674.77 86.43L675.65 92.78L676.53 99.06L677.41 105.27L678.28 111.41L679.16 117.49L680.04 123.50L680.91 129.44L681.79 135.32L682.67 141.13L683.55 146.88L684.42 152.56L685.30 158.18L686.18 163.73L687.05 169.23L687.93 174.65L688.81 180.02L689.69 185.32L690.56 190.56L691.44 195.74L692.32 200.86L693.19 205.91L694.07 210.91L694.95 215.85L695.83 220.72L696.70 225.54L697.58 230.30L698.46 235.00L699.33 239.65L700.21 244.23L701.09 248.76L701.97 253.23L702.84 257.65L703.72 262.01L704.60 266.32L705.47 270.57L706.35 274.77L707.23 278.92L708.11 283.01L708.98 287.05L709.86 291.04L710.74 294.97L711.61 298.86L712.49 302.69L713.37 306.47L714.25 310.21L715.12 313.89L716.00 317.53L716.88 321.12L717.75 324.66L718.63 328.15L719.51 331.60L720.39 335.00L721.26 338.35L722.14 341.66L723.02 344.92L723.89 348.14L724.77 351.32L725.65 354.45L726.53 357.54L727.40 360.59L728.28 363.60L729.16 366.56L730.03 369.48L730.91 372.36L731.79 375.21L732.67 378.01L733.54 380.77L734.42 383.50L735.30 386.19L736.17 388.83L737.05 391.45L737.93 394.02L738.81 396.56L739.68 399.06L740.56 401.53L741.44 403.96L742.31 406.36L743.19 408.72L744.07 411.05L744.95 413.35L745.82 415.62L746.70 417.85L747.58 420.05L748.45 422.22L749.33 424.35L750.21 426.46L751.09 428.54L751.96 430.58L752.84 432.60L753.72 434.59L754.59 436.55L755.47 438.48L756.35 440.38L757.23 442.26L758.10 444.11L758.98 445.93L759.86 447.72L760.73 449.49L761.61 451.24L762.49 452.96L763.37 454.65L764.24 456.32L765.12 457.97L766.00 459.59L766.87 461.19L767.75 462.76L768.63 464.32L769.51 465.85L770.38 467.36L771.26 468.84L772.14 470.31L773.01 471.76L773.89 473.18L774.77 474.58L775.65 475.97L776.52 477.33L777.40 478.68L778.28 480.00L779.15 481.31L780.03 482.60L780.91 483.87L781.79 485.12L782.66 486.36L783.54 487.57L784.42 488.77L785.29 489.96L786.17 491.12L787.05 492.27L787.93 493.41L788.80 494.53L789.68 495.63L790.56 496.72L791.43 497.79L792.31 498.85L793.19 499.90L794.07 500.93L794.94 501.94L795.82 502.94L796.70 503.93L797.57 504.91L798.45 505.87L799.33 506.82L800.21 507.76L801.08 508.68L801.96 509.59L802.84 510.49L803.71 511.38L804.59 512.26L805.47 513.12L806.35 513.98L807.22 514.82L808.10 515.65L808.98 516.47L809.85 517.28L810.73 518.09L811.61 518.88L812.49 519.66L813.36 520.43L814.24 521.19L815.12 521.94L815.99 522.68L816.87 523.42L817.75 524.14L818.63 524.86L819.50 525.57L820.38 526.27L821.26 526.96L822.14 527.64L823.01 528.31L823.89 528.98L824.77 529.64L825.64 530.29L826.52 530.93L827.40 531.57L828.28 532.20L829.15 532.82L830.03 533.43L830.91 534.04L831.78 534.64L832.66 535.24L833.54 535.83L834.42 536.41L835.29 536.98L836.17 537.55L837.05 538.11L837.92 538.67L838.80 539.22L839.68 539.77L840.56 540.31L841.43 540.84L842.31 541.37L843.19 541.89L844.06 542.41L844.94 542.92L845.82 543.43L846.70 543.93L847.57 544.43L848.45 544.92L849.33 545.41L850.20 545.89L851.08 546.37L851.96 546.85L852.84 547.31L853.71 547.78L854.59 548.24L855.47 548.70L856.34 549.15L857.22 549.60L858.10 550.04L858.98 550.48L859.85 550.92L860.73 551.35L861.61 551.78L862.48 552.20L863.36 552.62L864.24 553.04L865.12 553.45L865.99 553.86L866.87 554.27L867.75 554.67L868.62 555.07L869.50 555.47L870.38 555.86L871.26 556.25L872.13 556.63L873.01 557.02L873.89 557.40L874.76 557.77L875.64 558.15L876.52 558.52L877.40 558.89L878.27 559.25L879.15 559.62L880.03 559.97L880.90 560.33L881.78 560.69L882.66 561.04L883.54 561.39L884.41 561.73L885.29 562.07L886.17 562.42L887.04 562.75L887.92 563.09L888.80 563.42L889.68 563.75L890.55 564.08L891.43 564.41L892.31 564.73L893.18 565.05L894.06 565.37L894.94 565.69L895.82 566.00L896.69 566.32L897.57 566.63L898.45 566.93L899.32 567.24L900.20 567.54L901.08 567.84L901.96 568.14L902.83 568.44L903.71 568.74L904.59 569.03L905.46 569.32L906.34 569.61L907.22 569.90L908.10 570.18L908.97 570.47L909.85 570.75L910.73 571.03L911.60 571.31L912.48 571.58L913.36 571.86L914.24 572.13L915.11 572.40L915.99 572.67L916.87 572.94L917.74 573.20L918.62 573.46L919.50 573.73L920.38 573.99L921.25 574.25L922.13 574.50L923.01 574.76L923.88 575.01L924.76 575.26L925.64 575.51L926.52 575.76L927.39 576.01L928.27 576.25L929.15 576.50L930.02 576.74L930.90 576.98L931.78 577.22L932.66 577.46L933.53 577.70L934.41 577.93L935.29 578.16L936.16 578.40L937.04 578.63L937.92 578.85L938.80 579.08L939.67 579.31L940.55 579.53L941.43 579.76L942.30 579.98L943.18 580.20L944.06 580.42L944.94 580.63L945.81 580.85L946.69 581.07L947.57 581.28L948.44 581.49L949.32 581.70L950.20 581.91L951.08 582.12L951.95 582.33L952.83 582.53L953.71 582.74L954.58 582.94L955.46 583.14L956.34 583.34L957.22 583.54L958.09 583.74L958.97 583.94L959.85 584.13L960.72 584.33L961.60 584.52L962.48 584.71L963.36 584.90L964.23 585.09L965.11 585.28L965.99 585.47L966.86 585.65L967.74 585.84L968.62 586.02L969.50 586.20L970.37 586.38L971.25 586.56L972.13 586.74L973.00 586.92L973.88 587.10L974.76 587.27L975.64 587.45L976.51 587.62L977.39 587.79L978.27 587.96L979.14 588.13L980.02 588.30L980.90 588.47L981.78 588.64L982.65 588.80L983.53 588.97L984.41 589.13L985.28 589.29L986.16 589.45L987.04 589.61L987.92 589.77L988.79 589.93L989.67 590.09L990.55 590.25L991.42 590.40L992.30 590.56L993.18 590.71L994.06 590.86L994.93 591.01L995.81 591.16L996.69 591.31L997.56 591.46L998.44 591.61L999.32 591.76L1000.20 591.90L1001.07 592.05L1001.95 592.19L1002.83 592.33L1003.70 592.47L1004.58 592.61L1005.46 592.75L1006.34 592.89L1007.21 593.03L1008.09 593.17L1008.97 593.30L1009.84 593.44L1010.72 593.57L1011.60 593.71L1012.48 593.84L1013.35 593.97L1014.23 594.10L1015.11 594.23L1015.98 594.36L1016.86 594.49L1017.74 594.62L1018.62 594.75L1019.49 594.87L1020.37 595.00L1021.25 595.12L1022.12 595.24L1023.00 595.37L1023.88 595.49L1024.76 595.61L1025.63 595.73L1026.51 595.85L1027.39 595.97L1028.26 596.08L1029.14 596.20"/>
<path fill="none" stroke="#808080" stroke-width="2.9" stroke-dasharray="2.8 4.1" d="M838.3 111.2H892"/>
<path fill="none" stroke="#1383ee" stroke-width="3.0" stroke-dasharray="10 4.33" d="M838.3 147.6H892"/>
<path fill="none" stroke="#ff0000" stroke-width="3.9" d="M836.6 184.2H892.2"/>
<text transform="translate(910.40 120.00) rotate(0.03)" font-size="26.00" text-anchor="start" >H-RHF</text>
<text transform="translate(910.40 156.50) rotate(0.03)" font-size="26.00" text-anchor="start" >H-SDS</text>
<text transform="translate(910.40 193.00) rotate(0.03)" font-size="26.00" text-anchor="start" >H-HPM</text>
</svg>
</body></html>
